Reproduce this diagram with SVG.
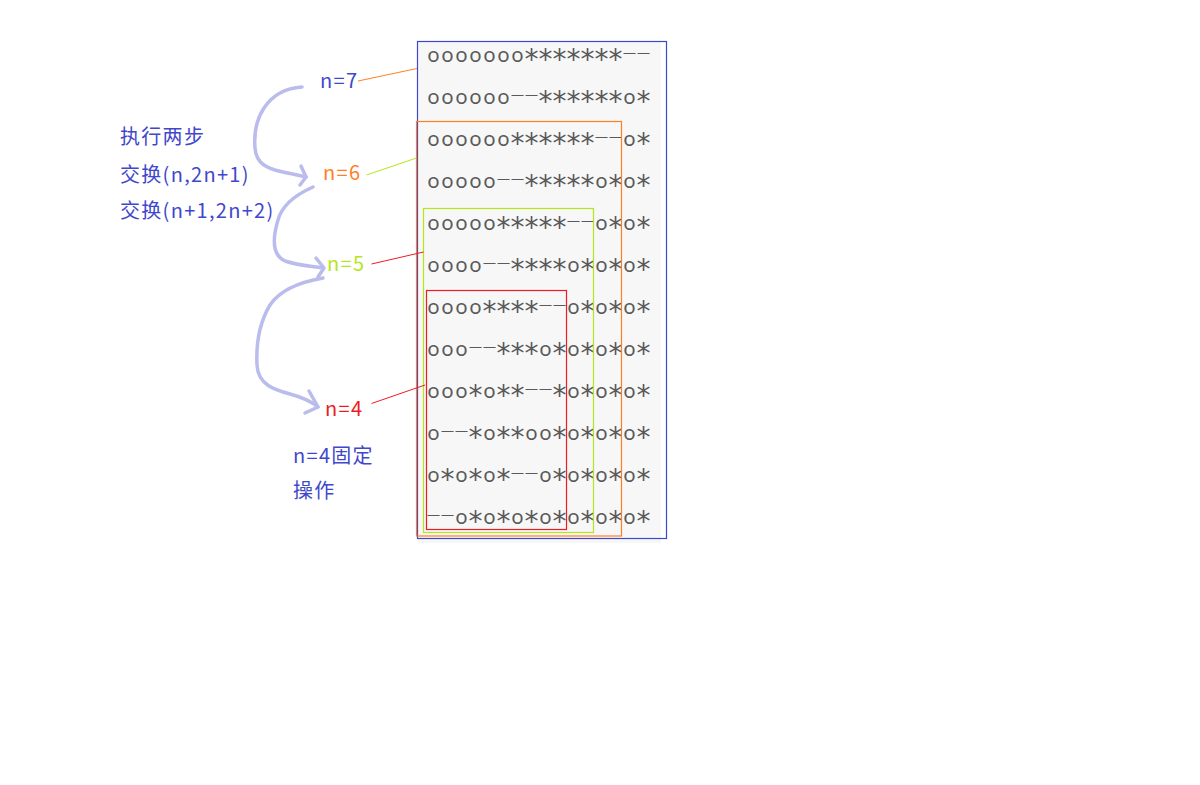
<svg xmlns="http://www.w3.org/2000/svg" width="1200" height="785" viewBox="0 0 1200 785">
<style>
.lbl{font-family:"Noto Sans CJK SC","Noto Sans",sans-serif;font-size:20px;letter-spacing:1.3px}
.blue{fill:#3f48cc}
.row{fill:#5a5a5a;text-anchor:middle}
.o{font-family:"Noto Sans",sans-serif;font-size:20.5px}
.s{font-family:"DejaVu Sans",sans-serif;font-size:28px}
.d{font-family:"Liberation Sans",sans-serif;font-size:12px}
.box{fill:none;stroke-width:1.2}
.link{fill:none;stroke-width:1}
.curve{fill:none;stroke:#b9bcec;stroke-width:3.5;stroke-linecap:round;stroke-linejoin:round}
</style>
<rect width="1200" height="785" fill="#ffffff"/>

<g id="panel">
<rect x="418" y="42" width="243" height="501" fill="#f7f7f7"/>
<text class="row" y="61.5"><tspan class="o" x="433.5 447.5 461.5 475.5 489.5 503.5 517.5" y="61.5">ooooooo</tspan><tspan class="s" x="531.5 545.5 559.5 573.5 587.5 601.5 615.5" y="68.5">*******</tspan><tspan class="d" x="629.5 643.5" y="56.5">——</tspan></text>
<text class="row" y="103.5"><tspan class="o" x="433.5 447.5 461.5 475.5 489.5 503.5" y="103.5">oooooo</tspan><tspan class="d" x="517.5 531.5" y="98.5">——</tspan><tspan class="s" x="545.5 559.5 573.5 587.5 601.5 615.5" y="110.5">******</tspan><tspan class="o" x="629.5" y="103.5">o</tspan><tspan class="s" x="643.5" y="110.5">*</tspan></text>
<text class="row" y="145.5"><tspan class="o" x="433.5 447.5 461.5 475.5 489.5 503.5" y="145.5">oooooo</tspan><tspan class="s" x="517.5 531.5 545.5 559.5 573.5 587.5" y="152.5">******</tspan><tspan class="d" x="601.5 615.5" y="140.5">——</tspan><tspan class="o" x="629.5" y="145.5">o</tspan><tspan class="s" x="643.5" y="152.5">*</tspan></text>
<text class="row" y="187.5"><tspan class="o" x="433.5 447.5 461.5 475.5 489.5" y="187.5">ooooo</tspan><tspan class="d" x="503.5 517.5" y="182.5">——</tspan><tspan class="s" x="531.5 545.5 559.5 573.5 587.5" y="194.5">*****</tspan><tspan class="o" x="601.5" y="187.5">o</tspan><tspan class="s" x="615.5" y="194.5">*</tspan><tspan class="o" x="629.5" y="187.5">o</tspan><tspan class="s" x="643.5" y="194.5">*</tspan></text>
<text class="row" y="229.5"><tspan class="o" x="433.5 447.5 461.5 475.5 489.5" y="229.5">ooooo</tspan><tspan class="s" x="503.5 517.5 531.5 545.5 559.5" y="236.5">*****</tspan><tspan class="d" x="573.5 587.5" y="224.5">——</tspan><tspan class="o" x="601.5" y="229.5">o</tspan><tspan class="s" x="615.5" y="236.5">*</tspan><tspan class="o" x="629.5" y="229.5">o</tspan><tspan class="s" x="643.5" y="236.5">*</tspan></text>
<text class="row" y="271.5"><tspan class="o" x="433.5 447.5 461.5 475.5" y="271.5">oooo</tspan><tspan class="d" x="489.5 503.5" y="266.5">——</tspan><tspan class="s" x="517.5 531.5 545.5 559.5" y="278.5">****</tspan><tspan class="o" x="573.5" y="271.5">o</tspan><tspan class="s" x="587.5" y="278.5">*</tspan><tspan class="o" x="601.5" y="271.5">o</tspan><tspan class="s" x="615.5" y="278.5">*</tspan><tspan class="o" x="629.5" y="271.5">o</tspan><tspan class="s" x="643.5" y="278.5">*</tspan></text>
<text class="row" y="313.5"><tspan class="o" x="433.5 447.5 461.5 475.5" y="313.5">oooo</tspan><tspan class="s" x="489.5 503.5 517.5 531.5" y="320.5">****</tspan><tspan class="d" x="545.5 559.5" y="308.5">——</tspan><tspan class="o" x="573.5" y="313.5">o</tspan><tspan class="s" x="587.5" y="320.5">*</tspan><tspan class="o" x="601.5" y="313.5">o</tspan><tspan class="s" x="615.5" y="320.5">*</tspan><tspan class="o" x="629.5" y="313.5">o</tspan><tspan class="s" x="643.5" y="320.5">*</tspan></text>
<text class="row" y="355.5"><tspan class="o" x="433.5 447.5 461.5" y="355.5">ooo</tspan><tspan class="d" x="475.5 489.5" y="350.5">——</tspan><tspan class="s" x="503.5 517.5 531.5" y="362.5">***</tspan><tspan class="o" x="545.5" y="355.5">o</tspan><tspan class="s" x="559.5" y="362.5">*</tspan><tspan class="o" x="573.5" y="355.5">o</tspan><tspan class="s" x="587.5" y="362.5">*</tspan><tspan class="o" x="601.5" y="355.5">o</tspan><tspan class="s" x="615.5" y="362.5">*</tspan><tspan class="o" x="629.5" y="355.5">o</tspan><tspan class="s" x="643.5" y="362.5">*</tspan></text>
<text class="row" y="397.5"><tspan class="o" x="433.5 447.5 461.5" y="397.5">ooo</tspan><tspan class="s" x="475.5" y="404.5">*</tspan><tspan class="o" x="489.5" y="397.5">o</tspan><tspan class="s" x="503.5 517.5" y="404.5">**</tspan><tspan class="d" x="531.5 545.5" y="392.5">——</tspan><tspan class="s" x="559.5" y="404.5">*</tspan><tspan class="o" x="573.5" y="397.5">o</tspan><tspan class="s" x="587.5" y="404.5">*</tspan><tspan class="o" x="601.5" y="397.5">o</tspan><tspan class="s" x="615.5" y="404.5">*</tspan><tspan class="o" x="629.5" y="397.5">o</tspan><tspan class="s" x="643.5" y="404.5">*</tspan></text>
<text class="row" y="439.5"><tspan class="o" x="433.5" y="439.5">o</tspan><tspan class="d" x="447.5 461.5" y="434.5">——</tspan><tspan class="s" x="475.5" y="446.5">*</tspan><tspan class="o" x="489.5" y="439.5">o</tspan><tspan class="s" x="503.5 517.5" y="446.5">**</tspan><tspan class="o" x="531.5 545.5" y="439.5">oo</tspan><tspan class="s" x="559.5" y="446.5">*</tspan><tspan class="o" x="573.5" y="439.5">o</tspan><tspan class="s" x="587.5" y="446.5">*</tspan><tspan class="o" x="601.5" y="439.5">o</tspan><tspan class="s" x="615.5" y="446.5">*</tspan><tspan class="o" x="629.5" y="439.5">o</tspan><tspan class="s" x="643.5" y="446.5">*</tspan></text>
<text class="row" y="481.5"><tspan class="o" x="433.5" y="481.5">o</tspan><tspan class="s" x="447.5" y="488.5">*</tspan><tspan class="o" x="461.5" y="481.5">o</tspan><tspan class="s" x="475.5" y="488.5">*</tspan><tspan class="o" x="489.5" y="481.5">o</tspan><tspan class="s" x="503.5" y="488.5">*</tspan><tspan class="d" x="517.5 531.5" y="476.5">——</tspan><tspan class="o" x="545.5" y="481.5">o</tspan><tspan class="s" x="559.5" y="488.5">*</tspan><tspan class="o" x="573.5" y="481.5">o</tspan><tspan class="s" x="587.5" y="488.5">*</tspan><tspan class="o" x="601.5" y="481.5">o</tspan><tspan class="s" x="615.5" y="488.5">*</tspan><tspan class="o" x="629.5" y="481.5">o</tspan><tspan class="s" x="643.5" y="488.5">*</tspan></text>
<text class="row" y="523.5"><tspan class="d" x="433.5 447.5" y="518.5">——</tspan><tspan class="o" x="461.5" y="523.5">o</tspan><tspan class="s" x="475.5" y="530.5">*</tspan><tspan class="o" x="489.5" y="523.5">o</tspan><tspan class="s" x="503.5" y="530.5">*</tspan><tspan class="o" x="517.5" y="523.5">o</tspan><tspan class="s" x="531.5" y="530.5">*</tspan><tspan class="o" x="545.5" y="523.5">o</tspan><tspan class="s" x="559.5" y="530.5">*</tspan><tspan class="o" x="573.5" y="523.5">o</tspan><tspan class="s" x="587.5" y="530.5">*</tspan><tspan class="o" x="601.5" y="523.5">o</tspan><tspan class="s" x="615.5" y="530.5">*</tspan><tspan class="o" x="629.5" y="523.5">o</tspan><tspan class="s" x="643.5" y="530.5">*</tspan></text>
</g>

<g id="box-n7"><rect class="box" x="417.5" y="41.5" width="249" height="497" stroke="#3f48cc"/></g>
<g id="box-n6"><rect class="box" x="416.5" y="121.5" width="205" height="414.5" stroke="#ff7f27"/></g>
<g id="box-n5"><rect class="box" x="423.5" y="208.5" width="170" height="324" stroke="#b5e61d"/></g>
<g id="box-n4"><rect class="box" x="426.5" y="290.5" width="140" height="239" stroke="#ed1c24"/></g>

<g id="connectors">
<line class="link" x1="358" y1="81" x2="417" y2="68.5" stroke="#ff7f27"/>
<line class="link" x1="366.5" y1="175" x2="416.5" y2="158" stroke="#b5e61d"/>
<line class="link" x1="371.5" y1="264" x2="423.5" y2="252" stroke="#ed1c24"/>
<line class="link" x1="371.5" y1="403.5" x2="425" y2="385" stroke="#ed1c24"/>
<path class="curve" d="M302,87 C285,88 272,96 264,108 C256,120 254,135 255,148 C256,160 262,166 275,170 C287,173 297,175 306,177"/>
<path class="curve" d="M301,166 L306,177 L300,185"/>
<path class="curve" d="M313,187 C295,195 282,205 278,220 C272,240 272,255 285,261 C300,266 312,266 323,268"/>
<path class="curve" d="M316,258 L324,268 L318,277"/>
<path class="curve" d="M323,278 C300,282 280,290 270,305 C258,325 256,345 257,365 C258,385 275,390 290,394 C305,398 312,402 318,407"/>
<path class="curve" d="M309,391 L318,407 L305,413"/>
</g>

<g id="n7"><text class="lbl blue" x="320" y="88">n=7</text></g>
<g id="n6"><text class="lbl" x="323" y="180" fill="#ff7f27">n=6</text></g>
<g id="n5"><text class="lbl" x="327" y="271" fill="#b5e61d">n=5</text></g>
<g id="n4"><text class="lbl" x="325" y="416" fill="#ed1c24">n=4</text></g>

<g id="note-steps">
<text class="lbl blue" x="120" y="144">执行两步</text>
<text class="lbl blue" x="120" y="182">交换(n,2n+1)</text>
<text class="lbl blue" x="120" y="218">交换(n+1,2n+2)</text>
</g>
<g id="note-fixed">
<text class="lbl blue" x="293" y="463">n=4固定</text>
<text class="lbl blue" x="293" y="498">操作</text>
</g>
</svg>
